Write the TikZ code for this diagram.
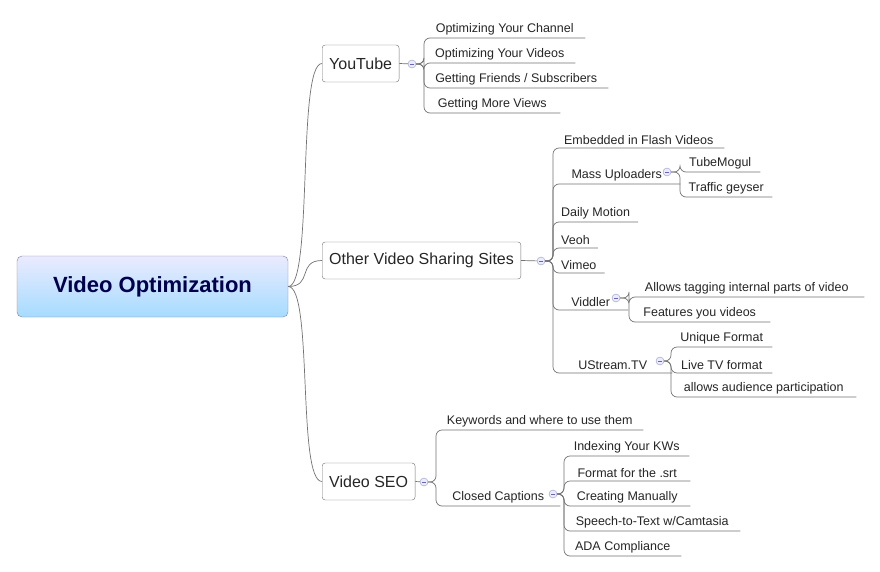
\documentclass[tikz,border=0pt]{standalone}
\usepackage{fontspec}
\setmainfont{Liberation Sans}
\begin{document}
\begin{tikzpicture}[x=1pt,y=-1pt,
  line/.style={draw=black!55,line width=0.7pt},
  branch/.style={line,rounded corners=6pt},
  leaf/.style={anchor=south west,inner xsep=8pt,inner ysep=3pt,font=\fontsize{12.5}{14}\selectfont,text=black!85},
  topic/.style={draw=black!55,rounded corners=3pt,fill=white,font=\fontsize{16}{18}\selectfont,text=black!85,inner xsep=7pt,minimum height=37pt},
  collapser/.style={circle,draw=blue!40!black!40,fill=blue!8,inner sep=0pt,minimum size=8pt,path picture={\draw[blue!50!black!60,line width=0.5pt] ([xshift=-2pt]path picture bounding box.center)--([xshift=2pt]path picture bounding box.center);}}]
\useasboundingbox (0,0) rectangle (880,572);
\fill[white] (0,0) rectangle (880,572);
\newcommand{\leafnode}[5]{\node[leaf,minimum width={#4-#2}] (#1) at (#2,#3) {#5};}
% root
\node[draw=blue!30!black!50,rounded corners=5pt,top color=blue!8,bottom color=blue!40!cyan!35,minimum width=271pt,minimum height=61pt,font=\fontsize{22}{24}\selectfont\bfseries,text=black!70!blue] (root) at (152.5,286.5) {Video Optimization};
\node[topic,anchor=west] (yt) at (322,63.5) {YouTube};
\node[topic,anchor=west] (ov) at (322,260.5) {Other Video Sharing Sites};
\node[topic,anchor=west] (seo) at (322,481.5) {Video SEO};
\foreach \t in {yt,ov,seo} \draw[line] (root.east) .. controls +(25,0) and +(-25,0) .. (\t.west);
% markers
\node[collapser] (myt) at (412,64) {};
\node[collapser] (mov) at (541,261) {};
\node[collapser] (mseo) at (424,482) {};
\draw[line] (yt.east)--(myt); \draw[line] (ov.east)--(mov); \draw[line] (seo.east)--(mseo);
% YouTube
\leafnode{y1}{424}{38}{585}{Optimizing Your Channel}
\leafnode{y2}{424}{63}{575}{Optimizing Your Videos}
\leafnode{y3}{424}{88}{608}{Getting Friends / Subscribers}
\leafnode{y4}{424}{113}{560}{Getting More Views}
\foreach \n in {y1,y2,y3,y4} \draw[branch] (myt.east) -| (\n.south west) -- (\n.south east);
% Other
\leafnode{o1}{553}{148}{724}{Embedded in Flash Videos}
\leafnode{o2}{553}{184}{680}{Mass Uploaders}
\leafnode{o3}{553}{222}{637}{Daily Motion}
\leafnode{o4}{553}{248}{597}{Veoh}
\leafnode{o5}{553}{273}{603}{Vimeo}
\leafnode{o6}{553}{310}{628}{Viddler}
\leafnode{o7}{553}{373}{672}{UStream.TV}
\foreach \n in {o1,o2,o3,o4,o5,o6,o7} \draw[branch] (mov.east) -| (\n.south west) -- (\n.south east);
\node[collapser] (mmu) at (667,172) {};
\node[collapser] (mvd) at (616,298) {};
\node[collapser] (mus) at (660,361) {};
\leafnode{m1}{680}{172}{760}{TubeMogul}
\leafnode{m2}{680}{197}{772}{Traffic geyser}
\foreach \n in {m1,m2} \draw[branch] (mmu.east) -| (\n.south west) -- (\n.south east);
\leafnode{v1}{629}{297}{864}{Allows tagging internal parts of video}
\leafnode{v2}{629}{322}{770}{Features you videos}
\foreach \n in {v1,v2} \draw[branch] (mvd.east) -| (\n.south west) -- (\n.south east);
\leafnode{u1}{671}{347}{772}{Unique Format}
\leafnode{u2}{671}{373}{772}{Live TV format}
\leafnode{u3}{671}{397}{856}{allows audience participation}
\foreach \n in {u1,u2,u3} \draw[branch] (mus.east) -| (\n.south west) -- (\n.south east);
% SEO
\leafnode{s1}{436}{430}{643}{Keywords and where to use them}
\leafnode{s2}{436}{506}{560}{Closed Captions}
\foreach \n in {s1,s2} \draw[branch] (mseo.east) -| (\n.south west) -- (\n.south east);
\node[collapser] (mcc) at (553,494) {};
\leafnode{c1}{564}{456}{689}{Indexing Your KWs}
\leafnode{c2}{564}{481}{690}{Format for the .srt}
\leafnode{c3}{564}{506}{690}{Creating Manually}
\leafnode{c4}{564}{531}{740}{Speech-to-Text w/Camtasia}
\leafnode{c5}{564}{556}{681}{ADA Compliance}
\foreach \n in {c1,c2,c3,c4,c5} \draw[branch] (mcc.east) -| (\n.south west) -- (\n.south east);
\end{tikzpicture}
\end{document}
